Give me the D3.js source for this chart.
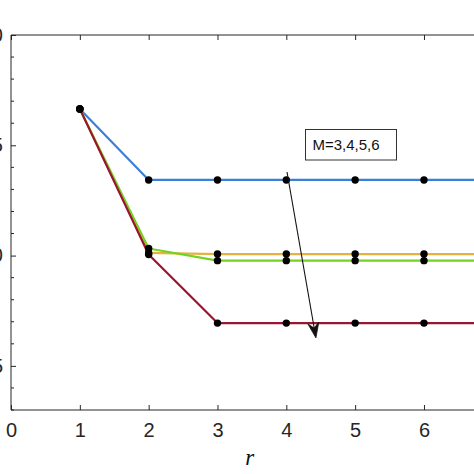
<!DOCTYPE html>
<html>
<head>
<meta charset="utf-8">
<script src="https://cdn.jsdelivr.net/npm/d3@7"></script>
<style>
  html, body { margin: 0; padding: 0; background: #fff; }
  svg { display: block; }
</style>
</head>
<body>
<svg id="chart" width="474" height="474"></svg>
<script>
// ---- data ----
const rValues = [1, 2, 3, 4, 5, 6, 7];
const seriesM3 = [16.65, 13.43, 13.43, 13.43, 13.43, 13.43, 13.43];
const seriesM4 = [16.65, 10.12, 10.07, 10.07, 10.07, 10.07, 10.07];
const seriesM5 = [16.65, 10.32, 9.77, 9.77, 9.77, 9.77, 9.77];
const seriesM6 = [16.65, 10.05, 6.94, 6.94, 6.94, 6.94, 6.94];
const xTicks = [0, 1, 2, 3, 4, 5, 6, 7];
const yTicks = [5, 10, 15, 20];
const yTickLabels = ["5", "10", "15", "20"];
const legendText = "M=3,4,5,6";
const arrowFrom = [4.01, 13.79];
const arrowTo = [4.43, 6.27];

const series = [
  { name: "M=3", values: seriesM3, color: "#3b7fd6" },
  { name: "M=4", values: seriesM4, color: "#e6b13e" },
  { name: "M=5", values: seriesM5, color: "#74d222" },
  { name: "M=6", values: seriesM6, color: "#9a1530" }
];

// ---- layout ----
const svg = d3.select("#chart");
const x = d3.scaleLinear().domain([0, 7]).range([11, 11 + 7 * 68.83]);
const y = d3.scaleLinear().domain([3, 20]).range([410, 35]);
const axisColor = "#262626";
const fontSans = "'Liberation Sans', Arial, Helvetica, sans-serif";

// lines
const line = d3.line().x((d, i) => x(rValues[i])).y(d => y(d));
series.forEach(s => {
  svg.append("path")
    .datum(s.values)
    .attr("d", line)
    .attr("fill", "none")
    .attr("stroke", s.color)
    .attr("stroke-width", 2.2)
    .attr("stroke-linejoin", "round");
});
// markers
series.forEach(s => {
  svg.selectAll(null)
    .data(s.values)
    .enter().append("circle")
    .attr("cx", (d, i) => x(rValues[i]))
    .attr("cy", d => y(d))
    .attr("r", 3.7)
    .attr("fill", "#000");
});

// axes frame
const x0 = x(0), x1 = x(7), yb = y(3), yt = y(20);
svg.append("line").attr("x1", x0).attr("x2", x1).attr("y1", yb).attr("y2", yb)
  .attr("stroke", axisColor).attr("stroke-width", 1);
svg.append("line").attr("x1", x0).attr("x2", x1).attr("y1", yt).attr("y2", yt)
  .attr("stroke", axisColor).attr("stroke-width", 1);
svg.append("line").attr("x1", x0).attr("x2", x0).attr("y1", yt).attr("y2", yb)
  .attr("stroke", axisColor).attr("stroke-width", 1);

// x axis via d3 axis (ticks inward)
const xAxis = d3.axisBottom(x).tickValues(xTicks).tickSizeInner(-5).tickSizeOuter(0)
  .tickPadding(13).tickFormat(d3.format("d"));
const gx = svg.append("g").attr("transform", `translate(0,${yb})`).call(xAxis);
gx.select(".domain").remove();
gx.selectAll(".tick line").attr("stroke", axisColor);
gx.selectAll(".tick text").attr("fill", axisColor)
  .style("font-family", fontSans).style("font-size", "20px");

// top ticks
const gxt = svg.append("g").attr("transform", `translate(0,${yt})`)
  .call(d3.axisTop(x).tickValues(xTicks).tickSizeInner(-5).tickSizeOuter(0).tickFormat(""));
gxt.select(".domain").remove();
gxt.selectAll(".tick line").attr("stroke", axisColor);

// y axis
const yAxis = d3.axisLeft(y).tickValues(yTicks).tickSizeInner(-5).tickSizeOuter(0)
  .tickPadding(8).tickFormat((d, i) => yTickLabels[i]);
const gy = svg.append("g").attr("transform", `translate(${x0},0)`).call(yAxis);
gy.select(".domain").remove();
gy.selectAll(".tick line").attr("stroke", axisColor);
gy.selectAll(".tick text").attr("fill", axisColor)
  .style("font-family", fontSans).style("font-size", "20px");

// y minor ticks
const minor = d3.range(3, 21, 1).filter(v => v % 5 !== 0);
svg.selectAll(null).data(minor).enter().append("line")
  .attr("x1", x0).attr("x2", x0 + 3)
  .attr("y1", d => y(d)).attr("y2", d => y(d))
  .attr("stroke", axisColor).attr("stroke-width", 1);

// x label
svg.append("text")
  .attr("x", x(3.47)).attr("y", 465)
  .attr("text-anchor", "middle")
  .style("font-family", "'Liberation Serif', 'DejaVu Serif', serif")
  .style("font-style", "italic")
  .style("font-size", "23px")
  .attr("fill", "#111")
  .text("r");

// annotation box
const box = svg.append("g");
box.append("rect")
  .attr("x", 305.5).attr("y", 129.5).attr("width", 91).attr("height", 30.5)
  .attr("fill", "#fff").attr("stroke", "#333").attr("stroke-width", 1);
box.append("text")
  .attr("x", 312.5).attr("y", 150)
  .style("font-family", fontSans).style("font-size", "15px")
  .attr("fill", "#111")
  .text(legendText);

// arrow
const ax1 = x(arrowFrom[0]), ay1 = y(arrowFrom[1]);
const ax2 = x(arrowTo[0]), ay2 = y(arrowTo[1]);
const ang = Math.atan2(ay2 - ay1, ax2 - ax1);
const headLen = 15, headW = 5.5, notch = 10;
const ux = Math.cos(ang), uy = Math.sin(ang);
const px = -uy, py = ux;
const bx = ax2 - ux * headLen, by = ay2 - uy * headLen;
const nx = ax2 - ux * notch, ny = ay2 - uy * notch;
svg.append("line")
  .attr("x1", ax1).attr("y1", ay1).attr("x2", nx).attr("y2", ny)
  .attr("stroke", "#111").attr("stroke-width", 1.1);
svg.append("path")
  .attr("d", `M${ax2},${ay2} L${bx + px * headW},${by + py * headW} L${nx},${ny} L${bx - px * headW},${by - py * headW} Z`)
  .attr("fill", "#111").attr("stroke", "#111").attr("stroke-width", 0.8);
</script>
</body>
</html>
